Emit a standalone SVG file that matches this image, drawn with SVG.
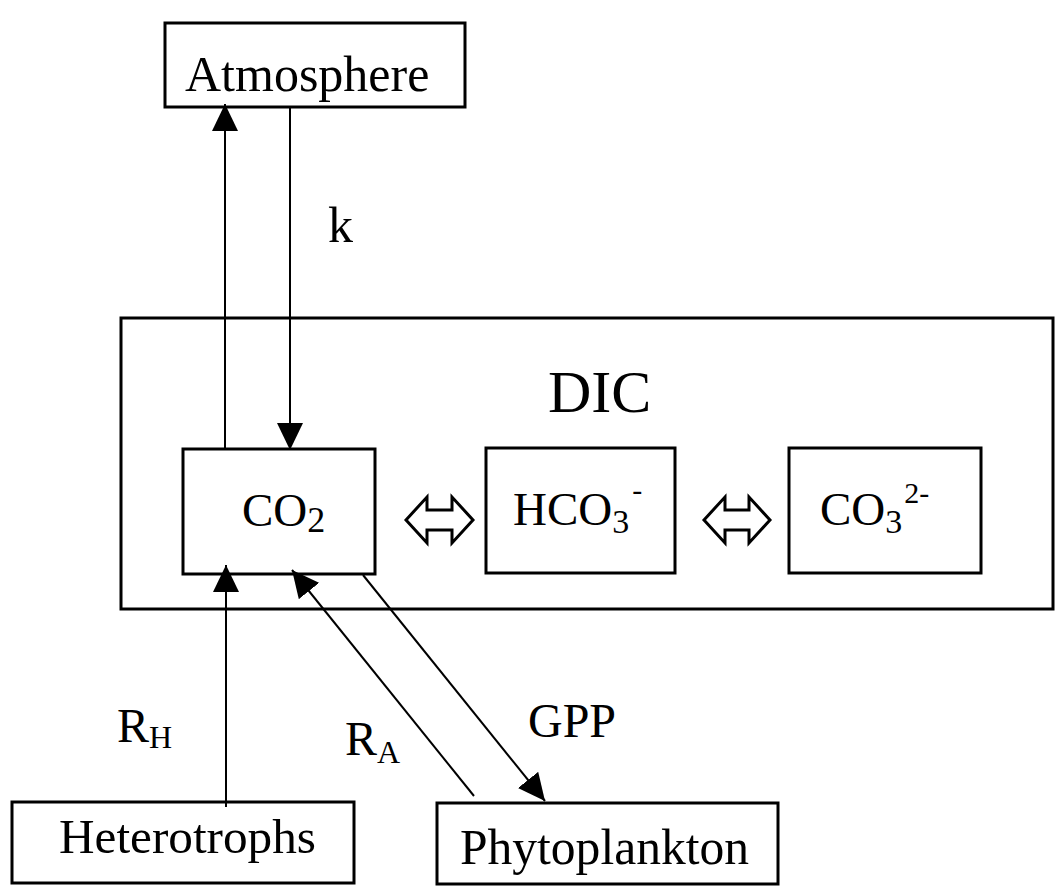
<svg xmlns="http://www.w3.org/2000/svg" width="1063" height="888" viewBox="0 0 1063 888">
<style>
.box{fill:none;stroke:#000;stroke-width:3}
.ln{fill:none;stroke:#000;stroke-width:2}
.t{font-family:"Liberation Serif","Times New Roman",serif;fill:#000}
.dbl{fill:#fff;stroke:#000;stroke-width:3;stroke-linejoin:miter}
</style>
<defs>
<marker id="ah" markerUnits="userSpaceOnUse" markerWidth="28" markerHeight="27" refX="27" refY="13" orient="auto">
<path d="M0,0 L27,13 L0,26 z" fill="#000"/>
</marker>
</defs>
<rect width="1063" height="888" fill="#fff"/>
<g id="dic">
<rect class="box" x="121" y="318" width="932" height="291"/>
<text class="t" x="548" y="412" font-size="60">DIC</text>
</g>
<g id="atmosphere">
<rect class="box" x="165" y="23" width="300" height="84"/>
<text class="t" x="185" y="91" font-size="50">Atmosphere</text>
</g>
<g id="co2">
<rect class="box" x="183" y="449" width="192" height="125"/>
<text class="t" x="242" y="526" font-size="47">CO<tspan font-size="36" dy="6">2</tspan></text>
</g>
<g id="hco3">
<rect class="box" x="486" y="448" width="189" height="125"/>
<text class="t" x="513" y="525" font-size="47">HCO<tspan font-size="34" dy="8">3</tspan><tspan font-size="30" dy="-33" dx="3">-</tspan></text>
</g>
<g id="co3">
<rect class="box" x="789" y="448" width="192" height="125"/>
<text class="t" x="820" y="525" font-size="47">CO<tspan font-size="34" dy="8">3</tspan><tspan font-size="30" dy="-30" dx="2">2-</tspan></text>
</g>
<g id="heterotrophs">
<rect class="box" x="12" y="802" width="342" height="81"/>
<text class="t" x="59" y="853" font-size="49" textLength="257" lengthAdjust="spacingAndGlyphs">Heterotrophs</text>
</g>
<g id="phytoplankton">
<rect class="box" x="437" y="803" width="341" height="81"/>
<text class="t" x="460" y="864" font-size="50" textLength="289" lengthAdjust="spacingAndGlyphs">Phytoplankton</text>
</g>
<g id="connectors">
<line class="ln" x1="225" y1="449" x2="225" y2="104" marker-end="url(#ah)"/>
<line class="ln" x1="290" y1="107" x2="290" y2="450" marker-end="url(#ah)"/>
<line class="ln" x1="226" y1="807" x2="226" y2="565" marker-end="url(#ah)"/>
<line class="ln" x1="474" y1="796" x2="292" y2="570" marker-end="url(#ah)"/>
<line class="ln" x1="363" y1="575" x2="545" y2="801" marker-end="url(#ah)"/>
<path class="dbl" d="M406,520 L427,497 L427,510 L452,510 L452,497 L473,520 L452,543 L452,530 L427,530 L427,543 Z"/>
<path class="dbl" d="M704,520 L725,497 L725,510 L749,510 L749,497 L770,520 L749,543 L749,530 L725,530 L725,543 Z"/>
<text class="t" x="328" y="242" font-size="50">k</text>
<text class="t" x="117" y="742" font-size="48">R<tspan font-size="32" dy="6">H</tspan></text>
<text class="t" x="345" y="755" font-size="48">R<tspan font-size="32" dy="8">A</tspan></text>
<text class="t" x="528" y="737" font-size="48">GPP</text>
</g>
</svg>
